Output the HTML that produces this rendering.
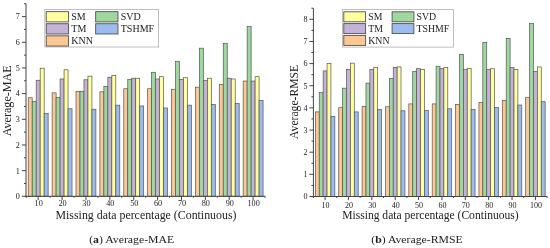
<!DOCTYPE html>
<html><head><meta charset="utf-8"><style>
html,body{margin:0;padding:0;background:#fff;}
body{width:550px;height:248px;overflow:hidden;}
svg{display:block;font-family:"Liberation Serif",serif;filter:blur(0.3px);}
text{fill:#222;}
</style></head><body>
<svg width="550" height="248" viewBox="0 0 550 248">
<rect width="550" height="248" fill="#fff"/>
<rect x="28.25" y="97.73" width="3.98" height="98.57" fill="#FDC794" stroke="#555" stroke-width="0.7"/>
<rect x="32.23" y="101.32" width="3.98" height="94.98" fill="#9ED89E" stroke="#555" stroke-width="0.7"/>
<rect x="36.21" y="80.27" width="3.98" height="116.03" fill="#C3B3D7" stroke="#555" stroke-width="0.7"/>
<rect x="40.19" y="68.21" width="3.98" height="128.09" fill="#FFFFA0" stroke="#555" stroke-width="0.7"/>
<rect x="44.17" y="113.64" width="3.98" height="82.66" fill="#9CBCF0" stroke="#555" stroke-width="0.7"/>
<rect x="52.13" y="92.85" width="3.98" height="103.45" fill="#FDC794" stroke="#555" stroke-width="0.7"/>
<rect x="56.11" y="97.47" width="3.98" height="98.83" fill="#9ED89E" stroke="#555" stroke-width="0.7"/>
<rect x="60.09" y="78.99" width="3.98" height="117.31" fill="#C3B3D7" stroke="#555" stroke-width="0.7"/>
<rect x="64.07" y="69.75" width="3.98" height="126.55" fill="#FFFFA0" stroke="#555" stroke-width="0.7"/>
<rect x="68.05" y="108.77" width="3.98" height="87.53" fill="#9CBCF0" stroke="#555" stroke-width="0.7"/>
<rect x="76.01" y="91.31" width="3.98" height="104.99" fill="#FDC794" stroke="#555" stroke-width="0.7"/>
<rect x="79.99" y="91.31" width="3.98" height="104.99" fill="#9ED89E" stroke="#555" stroke-width="0.7"/>
<rect x="83.97" y="79.76" width="3.98" height="116.54" fill="#C3B3D7" stroke="#555" stroke-width="0.7"/>
<rect x="87.95" y="76.16" width="3.98" height="120.14" fill="#FFFFA0" stroke="#555" stroke-width="0.7"/>
<rect x="91.93" y="109.28" width="3.98" height="87.02" fill="#9CBCF0" stroke="#555" stroke-width="0.7"/>
<rect x="99.89" y="91.82" width="3.98" height="104.48" fill="#FDC794" stroke="#555" stroke-width="0.7"/>
<rect x="103.87" y="86.43" width="3.98" height="109.87" fill="#9ED89E" stroke="#555" stroke-width="0.7"/>
<rect x="107.85" y="77.19" width="3.98" height="119.11" fill="#C3B3D7" stroke="#555" stroke-width="0.7"/>
<rect x="111.83" y="75.39" width="3.98" height="120.91" fill="#FFFFA0" stroke="#555" stroke-width="0.7"/>
<rect x="115.81" y="105.17" width="3.98" height="91.13" fill="#9CBCF0" stroke="#555" stroke-width="0.7"/>
<rect x="123.77" y="88.74" width="3.98" height="107.56" fill="#FDC794" stroke="#555" stroke-width="0.7"/>
<rect x="127.75" y="79.50" width="3.98" height="116.80" fill="#9ED89E" stroke="#555" stroke-width="0.7"/>
<rect x="131.73" y="78.22" width="3.98" height="118.08" fill="#C3B3D7" stroke="#555" stroke-width="0.7"/>
<rect x="135.71" y="78.22" width="3.98" height="118.08" fill="#FFFFA0" stroke="#555" stroke-width="0.7"/>
<rect x="139.69" y="105.94" width="3.98" height="90.36" fill="#9CBCF0" stroke="#555" stroke-width="0.7"/>
<rect x="147.65" y="88.74" width="3.98" height="107.56" fill="#FDC794" stroke="#555" stroke-width="0.7"/>
<rect x="151.63" y="72.31" width="3.98" height="123.99" fill="#9ED89E" stroke="#555" stroke-width="0.7"/>
<rect x="155.61" y="78.99" width="3.98" height="117.31" fill="#C3B3D7" stroke="#555" stroke-width="0.7"/>
<rect x="159.59" y="76.68" width="3.98" height="119.62" fill="#FFFFA0" stroke="#555" stroke-width="0.7"/>
<rect x="163.57" y="108.00" width="3.98" height="88.30" fill="#9CBCF0" stroke="#555" stroke-width="0.7"/>
<rect x="171.53" y="89.26" width="3.98" height="107.04" fill="#FDC794" stroke="#555" stroke-width="0.7"/>
<rect x="175.51" y="61.53" width="3.98" height="134.77" fill="#9ED89E" stroke="#555" stroke-width="0.7"/>
<rect x="179.49" y="79.50" width="3.98" height="116.80" fill="#C3B3D7" stroke="#555" stroke-width="0.7"/>
<rect x="183.47" y="77.70" width="3.98" height="118.60" fill="#FFFFA0" stroke="#555" stroke-width="0.7"/>
<rect x="187.45" y="105.17" width="3.98" height="91.13" fill="#9CBCF0" stroke="#555" stroke-width="0.7"/>
<rect x="195.41" y="87.20" width="3.98" height="109.10" fill="#FDC794" stroke="#555" stroke-width="0.7"/>
<rect x="199.39" y="48.18" width="3.98" height="148.12" fill="#9ED89E" stroke="#555" stroke-width="0.7"/>
<rect x="203.37" y="80.53" width="3.98" height="115.77" fill="#C3B3D7" stroke="#555" stroke-width="0.7"/>
<rect x="207.35" y="78.22" width="3.98" height="118.08" fill="#FFFFA0" stroke="#555" stroke-width="0.7"/>
<rect x="211.33" y="104.40" width="3.98" height="91.90" fill="#9CBCF0" stroke="#555" stroke-width="0.7"/>
<rect x="219.29" y="84.38" width="3.98" height="111.92" fill="#FDC794" stroke="#555" stroke-width="0.7"/>
<rect x="223.27" y="43.56" width="3.98" height="152.74" fill="#9ED89E" stroke="#555" stroke-width="0.7"/>
<rect x="227.25" y="78.22" width="3.98" height="118.08" fill="#C3B3D7" stroke="#555" stroke-width="0.7"/>
<rect x="231.23" y="78.99" width="3.98" height="117.31" fill="#FFFFA0" stroke="#555" stroke-width="0.7"/>
<rect x="235.21" y="103.63" width="3.98" height="92.67" fill="#9CBCF0" stroke="#555" stroke-width="0.7"/>
<rect x="243.17" y="81.04" width="3.98" height="115.26" fill="#FDC794" stroke="#555" stroke-width="0.7"/>
<rect x="247.15" y="26.62" width="3.98" height="169.68" fill="#9ED89E" stroke="#555" stroke-width="0.7"/>
<rect x="251.13" y="81.04" width="3.98" height="115.26" fill="#C3B3D7" stroke="#555" stroke-width="0.7"/>
<rect x="255.11" y="76.68" width="3.98" height="119.62" fill="#FFFFA0" stroke="#555" stroke-width="0.7"/>
<rect x="259.09" y="100.29" width="3.98" height="96.01" fill="#9CBCF0" stroke="#555" stroke-width="0.7"/>
<line x1="26.00" y1="3.78" x2="26.00" y2="196.80" stroke="#444" stroke-width="1"/>
<line x1="25.50" y1="196.30" x2="265.25" y2="196.30" stroke="#444" stroke-width="1"/>
<line x1="21.91" y1="196.30" x2="26.00" y2="196.30" stroke="#444" stroke-width="1"/>
<text x="19.86" y="199.17" font-size="8.19" text-anchor="end">0</text>
<line x1="23.95" y1="183.47" x2="26.00" y2="183.47" stroke="#444" stroke-width="1"/>
<line x1="21.91" y1="170.63" x2="26.00" y2="170.63" stroke="#444" stroke-width="1"/>
<text x="19.86" y="173.50" font-size="8.19" text-anchor="end">1</text>
<line x1="23.95" y1="157.80" x2="26.00" y2="157.80" stroke="#444" stroke-width="1"/>
<line x1="21.91" y1="144.96" x2="26.00" y2="144.96" stroke="#444" stroke-width="1"/>
<text x="19.86" y="147.83" font-size="8.19" text-anchor="end">2</text>
<line x1="23.95" y1="132.12" x2="26.00" y2="132.12" stroke="#444" stroke-width="1"/>
<line x1="21.91" y1="119.29" x2="26.00" y2="119.29" stroke="#444" stroke-width="1"/>
<text x="19.86" y="122.16" font-size="8.19" text-anchor="end">3</text>
<line x1="23.95" y1="106.46" x2="26.00" y2="106.46" stroke="#444" stroke-width="1"/>
<line x1="21.91" y1="93.62" x2="26.00" y2="93.62" stroke="#444" stroke-width="1"/>
<text x="19.86" y="96.49" font-size="8.19" text-anchor="end">4</text>
<line x1="23.95" y1="80.78" x2="26.00" y2="80.78" stroke="#444" stroke-width="1"/>
<line x1="21.91" y1="67.95" x2="26.00" y2="67.95" stroke="#444" stroke-width="1"/>
<text x="19.86" y="70.82" font-size="8.19" text-anchor="end">5</text>
<line x1="23.95" y1="55.12" x2="26.00" y2="55.12" stroke="#444" stroke-width="1"/>
<line x1="21.91" y1="42.28" x2="26.00" y2="42.28" stroke="#444" stroke-width="1"/>
<text x="19.86" y="45.15" font-size="8.19" text-anchor="end">6</text>
<line x1="23.95" y1="29.44" x2="26.00" y2="29.44" stroke="#444" stroke-width="1"/>
<line x1="21.91" y1="16.61" x2="26.00" y2="16.61" stroke="#444" stroke-width="1"/>
<text x="19.86" y="19.48" font-size="8.19" text-anchor="end">7</text>
<line x1="23.95" y1="3.78" x2="26.00" y2="3.78" stroke="#444" stroke-width="1"/>
<line x1="26.26" y1="196.30" x2="26.26" y2="197.84" stroke="#444" stroke-width="1"/>
<line x1="50.14" y1="196.30" x2="50.14" y2="197.84" stroke="#444" stroke-width="1"/>
<line x1="74.02" y1="196.30" x2="74.02" y2="197.84" stroke="#444" stroke-width="1"/>
<line x1="97.90" y1="196.30" x2="97.90" y2="197.84" stroke="#444" stroke-width="1"/>
<line x1="121.78" y1="196.30" x2="121.78" y2="197.84" stroke="#444" stroke-width="1"/>
<line x1="145.66" y1="196.30" x2="145.66" y2="197.84" stroke="#444" stroke-width="1"/>
<line x1="169.54" y1="196.30" x2="169.54" y2="197.84" stroke="#444" stroke-width="1"/>
<line x1="193.42" y1="196.30" x2="193.42" y2="197.84" stroke="#444" stroke-width="1"/>
<line x1="217.30" y1="196.30" x2="217.30" y2="197.84" stroke="#444" stroke-width="1"/>
<line x1="241.18" y1="196.30" x2="241.18" y2="197.84" stroke="#444" stroke-width="1"/>
<line x1="265.06" y1="196.30" x2="265.06" y2="197.84" stroke="#444" stroke-width="1"/>
<line x1="38.20" y1="196.30" x2="38.20" y2="199.98" stroke="#444" stroke-width="1"/>
<text x="38.70" y="206.30" font-size="8.19" text-anchor="middle">10</text>
<line x1="62.08" y1="196.30" x2="62.08" y2="199.98" stroke="#444" stroke-width="1"/>
<text x="62.58" y="206.30" font-size="8.19" text-anchor="middle">20</text>
<line x1="85.96" y1="196.30" x2="85.96" y2="199.98" stroke="#444" stroke-width="1"/>
<text x="86.46" y="206.30" font-size="8.19" text-anchor="middle">30</text>
<line x1="109.84" y1="196.30" x2="109.84" y2="199.98" stroke="#444" stroke-width="1"/>
<text x="110.34" y="206.30" font-size="8.19" text-anchor="middle">40</text>
<line x1="133.72" y1="196.30" x2="133.72" y2="199.98" stroke="#444" stroke-width="1"/>
<text x="134.22" y="206.30" font-size="8.19" text-anchor="middle">50</text>
<line x1="157.60" y1="196.30" x2="157.60" y2="199.98" stroke="#444" stroke-width="1"/>
<text x="158.10" y="206.30" font-size="8.19" text-anchor="middle">60</text>
<line x1="181.48" y1="196.30" x2="181.48" y2="199.98" stroke="#444" stroke-width="1"/>
<text x="181.98" y="206.30" font-size="8.19" text-anchor="middle">70</text>
<line x1="205.36" y1="196.30" x2="205.36" y2="199.98" stroke="#444" stroke-width="1"/>
<text x="205.86" y="206.30" font-size="8.19" text-anchor="middle">80</text>
<line x1="229.24" y1="196.30" x2="229.24" y2="199.98" stroke="#444" stroke-width="1"/>
<text x="229.74" y="206.30" font-size="8.19" text-anchor="middle">90</text>
<line x1="253.12" y1="196.30" x2="253.12" y2="199.98" stroke="#444" stroke-width="1"/>
<text x="253.62" y="206.30" font-size="8.19" text-anchor="middle">100</text>
<text x="146.00" y="218.70" font-size="11.87" text-anchor="middle" textLength="181.0" lengthAdjust="spacingAndGlyphs">Missing data percentage (Continuous)</text>
<text transform="translate(11.00,100.80) rotate(-90)" x="0" y="0" font-size="11.87" text-anchor="middle" textLength="71.1" lengthAdjust="spacingAndGlyphs">Average-MAE</text>
<rect x="44.80" y="9.40" width="113.80" height="37.60" fill="#fff" stroke="#b0b0b0" stroke-width="0.8"/>
<rect x="46.23" y="11.65" width="22.31" height="10.24" fill="#FFFFA0" stroke="#505050" stroke-width="0.9"/>
<text x="71.31" y="20.04" font-size="10.03">SM</text>
<rect x="46.23" y="23.73" width="22.31" height="10.24" fill="#C3B3D7" stroke="#505050" stroke-width="0.9"/>
<text x="71.31" y="32.12" font-size="10.03">TM</text>
<rect x="46.23" y="35.81" width="22.31" height="10.24" fill="#FDC794" stroke="#505050" stroke-width="0.9"/>
<text x="71.31" y="44.20" font-size="10.03">KNN</text>
<rect x="95.67" y="11.65" width="22.31" height="10.24" fill="#9ED89E" stroke="#505050" stroke-width="0.9"/>
<text x="120.74" y="20.04" font-size="10.03">SVD</text>
<rect x="95.67" y="23.73" width="22.31" height="10.24" fill="#9CBCF0" stroke="#505050" stroke-width="0.9"/>
<text x="120.74" y="32.12" font-size="10.03">TSHMF</text>
<rect x="315.35" y="111.89" width="3.90" height="84.61" fill="#FDC794" stroke="#555" stroke-width="0.7"/>
<rect x="319.24" y="92.62" width="3.90" height="103.88" fill="#9ED89E" stroke="#555" stroke-width="0.7"/>
<rect x="323.14" y="70.91" width="3.90" height="125.59" fill="#C3B3D7" stroke="#555" stroke-width="0.7"/>
<rect x="327.03" y="63.60" width="3.90" height="132.90" fill="#FFFFA0" stroke="#555" stroke-width="0.7"/>
<rect x="330.93" y="116.32" width="3.90" height="80.18" fill="#9CBCF0" stroke="#555" stroke-width="0.7"/>
<rect x="338.72" y="107.68" width="3.90" height="88.82" fill="#FDC794" stroke="#555" stroke-width="0.7"/>
<rect x="342.61" y="88.19" width="3.90" height="108.31" fill="#9ED89E" stroke="#555" stroke-width="0.7"/>
<rect x="346.51" y="69.36" width="3.90" height="127.14" fill="#C3B3D7" stroke="#555" stroke-width="0.7"/>
<rect x="350.40" y="63.16" width="3.90" height="133.34" fill="#FFFFA0" stroke="#555" stroke-width="0.7"/>
<rect x="354.30" y="111.89" width="3.90" height="84.61" fill="#9CBCF0" stroke="#555" stroke-width="0.7"/>
<rect x="362.09" y="106.35" width="3.90" height="90.15" fill="#FDC794" stroke="#555" stroke-width="0.7"/>
<rect x="365.98" y="83.09" width="3.90" height="113.41" fill="#9ED89E" stroke="#555" stroke-width="0.7"/>
<rect x="369.88" y="69.36" width="3.90" height="127.14" fill="#C3B3D7" stroke="#555" stroke-width="0.7"/>
<rect x="373.77" y="67.59" width="3.90" height="128.91" fill="#FFFFA0" stroke="#555" stroke-width="0.7"/>
<rect x="377.67" y="109.45" width="3.90" height="87.05" fill="#9CBCF0" stroke="#555" stroke-width="0.7"/>
<rect x="385.46" y="106.79" width="3.90" height="89.71" fill="#FDC794" stroke="#555" stroke-width="0.7"/>
<rect x="389.35" y="78.44" width="3.90" height="118.06" fill="#9ED89E" stroke="#555" stroke-width="0.7"/>
<rect x="393.25" y="67.37" width="3.90" height="129.13" fill="#C3B3D7" stroke="#555" stroke-width="0.7"/>
<rect x="397.14" y="66.92" width="3.90" height="129.58" fill="#FFFFA0" stroke="#555" stroke-width="0.7"/>
<rect x="401.04" y="110.78" width="3.90" height="85.72" fill="#9CBCF0" stroke="#555" stroke-width="0.7"/>
<rect x="408.83" y="103.91" width="3.90" height="92.59" fill="#FDC794" stroke="#555" stroke-width="0.7"/>
<rect x="412.72" y="71.57" width="3.90" height="124.93" fill="#9ED89E" stroke="#555" stroke-width="0.7"/>
<rect x="416.62" y="68.69" width="3.90" height="127.81" fill="#C3B3D7" stroke="#555" stroke-width="0.7"/>
<rect x="420.51" y="69.58" width="3.90" height="126.92" fill="#FFFFA0" stroke="#555" stroke-width="0.7"/>
<rect x="424.41" y="110.34" width="3.90" height="86.16" fill="#9CBCF0" stroke="#555" stroke-width="0.7"/>
<rect x="432.20" y="103.91" width="3.90" height="92.59" fill="#FDC794" stroke="#555" stroke-width="0.7"/>
<rect x="436.09" y="66.26" width="3.90" height="130.24" fill="#9ED89E" stroke="#555" stroke-width="0.7"/>
<rect x="439.99" y="68.69" width="3.90" height="127.81" fill="#C3B3D7" stroke="#555" stroke-width="0.7"/>
<rect x="443.88" y="67.59" width="3.90" height="128.91" fill="#FFFFA0" stroke="#555" stroke-width="0.7"/>
<rect x="447.78" y="108.79" width="3.90" height="87.71" fill="#9CBCF0" stroke="#555" stroke-width="0.7"/>
<rect x="455.57" y="104.36" width="3.90" height="92.14" fill="#FDC794" stroke="#555" stroke-width="0.7"/>
<rect x="459.46" y="54.52" width="3.90" height="141.98" fill="#9ED89E" stroke="#555" stroke-width="0.7"/>
<rect x="463.36" y="69.58" width="3.90" height="126.92" fill="#C3B3D7" stroke="#555" stroke-width="0.7"/>
<rect x="467.25" y="68.47" width="3.90" height="128.03" fill="#FFFFA0" stroke="#555" stroke-width="0.7"/>
<rect x="471.15" y="109.45" width="3.90" height="87.05" fill="#9CBCF0" stroke="#555" stroke-width="0.7"/>
<rect x="478.94" y="102.58" width="3.90" height="93.92" fill="#FDC794" stroke="#555" stroke-width="0.7"/>
<rect x="482.83" y="42.34" width="3.90" height="154.16" fill="#9ED89E" stroke="#555" stroke-width="0.7"/>
<rect x="486.73" y="69.58" width="3.90" height="126.92" fill="#C3B3D7" stroke="#555" stroke-width="0.7"/>
<rect x="490.62" y="68.69" width="3.90" height="127.81" fill="#FFFFA0" stroke="#555" stroke-width="0.7"/>
<rect x="494.52" y="107.46" width="3.90" height="89.04" fill="#9CBCF0" stroke="#555" stroke-width="0.7"/>
<rect x="502.31" y="100.37" width="3.90" height="96.13" fill="#FDC794" stroke="#555" stroke-width="0.7"/>
<rect x="506.20" y="38.35" width="3.90" height="158.15" fill="#9ED89E" stroke="#555" stroke-width="0.7"/>
<rect x="510.10" y="67.59" width="3.90" height="128.91" fill="#C3B3D7" stroke="#555" stroke-width="0.7"/>
<rect x="513.99" y="69.36" width="3.90" height="127.14" fill="#FFFFA0" stroke="#555" stroke-width="0.7"/>
<rect x="517.89" y="105.02" width="3.90" height="91.48" fill="#9CBCF0" stroke="#555" stroke-width="0.7"/>
<rect x="525.68" y="97.27" width="3.90" height="99.23" fill="#FDC794" stroke="#555" stroke-width="0.7"/>
<rect x="529.57" y="23.29" width="3.90" height="173.21" fill="#9ED89E" stroke="#555" stroke-width="0.7"/>
<rect x="533.47" y="71.35" width="3.90" height="125.15" fill="#C3B3D7" stroke="#555" stroke-width="0.7"/>
<rect x="537.36" y="66.92" width="3.90" height="129.58" fill="#FFFFA0" stroke="#555" stroke-width="0.7"/>
<rect x="541.26" y="101.70" width="3.90" height="94.80" fill="#9CBCF0" stroke="#555" stroke-width="0.7"/>
<line x1="313.40" y1="8.23" x2="313.40" y2="197.00" stroke="#444" stroke-width="1"/>
<line x1="312.90" y1="196.50" x2="547.10" y2="196.50" stroke="#444" stroke-width="1"/>
<line x1="309.40" y1="196.50" x2="313.40" y2="196.50" stroke="#444" stroke-width="1"/>
<text x="307.40" y="199.30" font-size="8.00" text-anchor="end">0</text>
<line x1="311.40" y1="185.43" x2="313.40" y2="185.43" stroke="#444" stroke-width="1"/>
<line x1="309.40" y1="174.35" x2="313.40" y2="174.35" stroke="#444" stroke-width="1"/>
<text x="307.40" y="177.15" font-size="8.00" text-anchor="end">1</text>
<line x1="311.40" y1="163.28" x2="313.40" y2="163.28" stroke="#444" stroke-width="1"/>
<line x1="309.40" y1="152.20" x2="313.40" y2="152.20" stroke="#444" stroke-width="1"/>
<text x="307.40" y="155.00" font-size="8.00" text-anchor="end">2</text>
<line x1="311.40" y1="141.12" x2="313.40" y2="141.12" stroke="#444" stroke-width="1"/>
<line x1="309.40" y1="130.05" x2="313.40" y2="130.05" stroke="#444" stroke-width="1"/>
<text x="307.40" y="132.85" font-size="8.00" text-anchor="end">3</text>
<line x1="311.40" y1="118.98" x2="313.40" y2="118.98" stroke="#444" stroke-width="1"/>
<line x1="309.40" y1="107.90" x2="313.40" y2="107.90" stroke="#444" stroke-width="1"/>
<text x="307.40" y="110.70" font-size="8.00" text-anchor="end">4</text>
<line x1="311.40" y1="96.83" x2="313.40" y2="96.83" stroke="#444" stroke-width="1"/>
<line x1="309.40" y1="85.75" x2="313.40" y2="85.75" stroke="#444" stroke-width="1"/>
<text x="307.40" y="88.55" font-size="8.00" text-anchor="end">5</text>
<line x1="311.40" y1="74.68" x2="313.40" y2="74.68" stroke="#444" stroke-width="1"/>
<line x1="309.40" y1="63.60" x2="313.40" y2="63.60" stroke="#444" stroke-width="1"/>
<text x="307.40" y="66.40" font-size="8.00" text-anchor="end">6</text>
<line x1="311.40" y1="52.53" x2="313.40" y2="52.53" stroke="#444" stroke-width="1"/>
<line x1="309.40" y1="41.45" x2="313.40" y2="41.45" stroke="#444" stroke-width="1"/>
<text x="307.40" y="44.25" font-size="8.00" text-anchor="end">7</text>
<line x1="311.40" y1="30.38" x2="313.40" y2="30.38" stroke="#444" stroke-width="1"/>
<line x1="309.40" y1="19.30" x2="313.40" y2="19.30" stroke="#444" stroke-width="1"/>
<text x="307.40" y="22.10" font-size="8.00" text-anchor="end">8</text>
<line x1="311.40" y1="8.23" x2="313.40" y2="8.23" stroke="#444" stroke-width="1"/>
<line x1="313.40" y1="196.50" x2="313.40" y2="198.00" stroke="#444" stroke-width="1"/>
<line x1="336.77" y1="196.50" x2="336.77" y2="198.00" stroke="#444" stroke-width="1"/>
<line x1="360.14" y1="196.50" x2="360.14" y2="198.00" stroke="#444" stroke-width="1"/>
<line x1="383.51" y1="196.50" x2="383.51" y2="198.00" stroke="#444" stroke-width="1"/>
<line x1="406.88" y1="196.50" x2="406.88" y2="198.00" stroke="#444" stroke-width="1"/>
<line x1="430.25" y1="196.50" x2="430.25" y2="198.00" stroke="#444" stroke-width="1"/>
<line x1="453.62" y1="196.50" x2="453.62" y2="198.00" stroke="#444" stroke-width="1"/>
<line x1="476.99" y1="196.50" x2="476.99" y2="198.00" stroke="#444" stroke-width="1"/>
<line x1="500.36" y1="196.50" x2="500.36" y2="198.00" stroke="#444" stroke-width="1"/>
<line x1="523.73" y1="196.50" x2="523.73" y2="198.00" stroke="#444" stroke-width="1"/>
<line x1="547.10" y1="196.50" x2="547.10" y2="198.00" stroke="#444" stroke-width="1"/>
<line x1="325.08" y1="196.50" x2="325.08" y2="200.10" stroke="#444" stroke-width="1"/>
<text x="325.58" y="208.20" font-size="8.00" text-anchor="middle">10</text>
<line x1="348.45" y1="196.50" x2="348.45" y2="200.10" stroke="#444" stroke-width="1"/>
<text x="348.95" y="208.20" font-size="8.00" text-anchor="middle">20</text>
<line x1="371.82" y1="196.50" x2="371.82" y2="200.10" stroke="#444" stroke-width="1"/>
<text x="372.32" y="208.20" font-size="8.00" text-anchor="middle">30</text>
<line x1="395.19" y1="196.50" x2="395.19" y2="200.10" stroke="#444" stroke-width="1"/>
<text x="395.69" y="208.20" font-size="8.00" text-anchor="middle">40</text>
<line x1="418.56" y1="196.50" x2="418.56" y2="200.10" stroke="#444" stroke-width="1"/>
<text x="419.06" y="208.20" font-size="8.00" text-anchor="middle">50</text>
<line x1="441.93" y1="196.50" x2="441.93" y2="200.10" stroke="#444" stroke-width="1"/>
<text x="442.43" y="208.20" font-size="8.00" text-anchor="middle">60</text>
<line x1="465.30" y1="196.50" x2="465.30" y2="200.10" stroke="#444" stroke-width="1"/>
<text x="465.80" y="208.20" font-size="8.00" text-anchor="middle">70</text>
<line x1="488.67" y1="196.50" x2="488.67" y2="200.10" stroke="#444" stroke-width="1"/>
<text x="489.17" y="208.20" font-size="8.00" text-anchor="middle">80</text>
<line x1="512.04" y1="196.50" x2="512.04" y2="200.10" stroke="#444" stroke-width="1"/>
<text x="512.54" y="208.20" font-size="8.00" text-anchor="middle">90</text>
<line x1="535.41" y1="196.50" x2="535.41" y2="200.10" stroke="#444" stroke-width="1"/>
<text x="535.91" y="208.20" font-size="8.00" text-anchor="middle">100</text>
<text x="430.40" y="218.60" font-size="11.60" text-anchor="middle" textLength="176.5" lengthAdjust="spacingAndGlyphs">Missing data percentage (Continuous)</text>
<text transform="translate(298.10,101.90) rotate(-90)" x="0" y="0" font-size="11.60" text-anchor="middle" textLength="74.1" lengthAdjust="spacingAndGlyphs">Average-RMSE</text>
<rect x="342.40" y="9.60" width="111.00" height="37.50" fill="#fff" stroke="#b0b0b0" stroke-width="0.8"/>
<rect x="343.80" y="11.80" width="21.80" height="10.00" fill="#FFFFA0" stroke="#505050" stroke-width="0.9"/>
<text x="368.30" y="20.00" font-size="9.80">SM</text>
<rect x="343.80" y="23.60" width="21.80" height="10.00" fill="#C3B3D7" stroke="#505050" stroke-width="0.9"/>
<text x="368.30" y="31.80" font-size="9.80">TM</text>
<rect x="343.80" y="35.40" width="21.80" height="10.00" fill="#FDC794" stroke="#505050" stroke-width="0.9"/>
<text x="368.30" y="43.60" font-size="9.80">KNN</text>
<rect x="392.10" y="11.80" width="21.80" height="10.00" fill="#9ED89E" stroke="#505050" stroke-width="0.9"/>
<text x="416.60" y="20.00" font-size="9.80">SVD</text>
<rect x="392.10" y="23.60" width="21.80" height="10.00" fill="#9CBCF0" stroke="#505050" stroke-width="0.9"/>
<text x="416.60" y="31.80" font-size="9.80">TSHMF</text>
<text x="89.2" y="242.9" font-family="Liberation Serif" font-size="10.5" textLength="85" lengthAdjust="spacingAndGlyphs">(<tspan font-weight="bold">a</tspan>) Average-MAE</text>
<text x="371.3" y="242.9" font-family="Liberation Serif" font-size="10.5" textLength="91.3" lengthAdjust="spacingAndGlyphs">(<tspan font-weight="bold">b</tspan>) Average-RMSE</text>
</svg></body></html>
